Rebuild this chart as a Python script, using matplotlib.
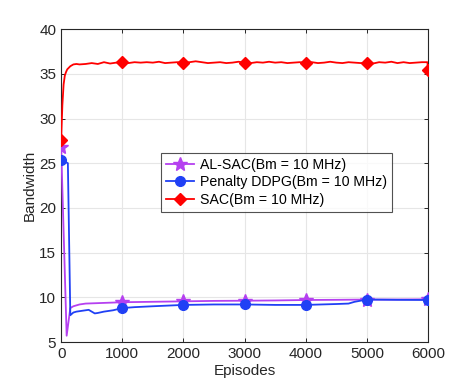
import matplotlib
matplotlib.use("Agg")
import matplotlib.pyplot as plt

plt.rcParams['font.family'] = ['Liberation Sans', 'DejaVu Sans']

# SAC
sac_x = [0, 20, 40, 60, 80, 100, 150, 200, 250, 300, 400, 500, 600, 700, 800, 900, 1000,
         1100, 1200, 1300, 1400, 1500, 1600, 1700, 1800, 1900, 2000, 2100, 2200, 2300, 2400,
         2500, 2600, 2700, 2800, 2900, 3000, 3100, 3200, 3300, 3400, 3500, 3600, 3700, 3800,
         3900, 4000, 4100, 4200, 4300, 4400, 4500, 4600, 4700, 4800, 4900, 5000, 5100, 5200,
         5300, 5400, 5500, 5600, 5700, 5800, 5900, 5990, 6000]
sac_y = [27.6, 31.5, 33.8, 34.8, 35.2, 35.5, 35.85, 36.05, 36.1, 36.05, 36.1, 36.2, 36.1, 36.3,
         36.15, 36.25, 36.3, 36.2, 36.3, 36.25, 36.3, 36.25, 36.35, 36.2, 36.25, 36.3, 36.25,
         36.3, 36.4, 36.3, 36.2, 36.25, 36.3, 36.2, 36.25, 36.35, 36.25, 36.2, 36.3, 36.25, 36.35,
         36.25, 36.3, 36.2, 36.25, 36.3, 36.25, 36.3, 36.2, 36.25, 36.35, 36.25, 36.2, 36.3, 36.25,
         36.2, 36.25, 36.15, 36.3, 36.25, 36.35, 36.2, 36.3, 36.2, 36.25, 36.3, 36.3, 35.4]

# AL-SAC
alsac_x = [0, 90, 150, 200, 300, 400, 600, 800, 1000, 1500, 2000, 2500, 3000, 3500, 4000,
           4500, 5000, 5500, 6000]
alsac_y = [26.8, 5.7, 8.8, 9.0, 9.2, 9.3, 9.35, 9.4, 9.45, 9.5, 9.55, 9.6, 9.62, 9.65, 9.7,
           9.72, 9.75, 9.75, 9.78]

# Penalty DDPG
ddpg_x = [0, 110, 150, 200, 250, 300, 450, 500, 550, 600, 700, 850, 1000, 1200, 1500, 2000,
          2500, 3000, 3500, 4000, 4500, 4700, 4800, 5000, 5500, 6000]
ddpg_y = [25.4, 25.0, 8.0, 8.3, 8.4, 8.45, 8.6, 8.4, 8.2, 8.25, 8.4, 8.55, 8.8, 8.9, 9.0, 9.15,
          9.2, 9.2, 9.15, 9.15, 9.25, 9.3, 9.5, 9.75, 9.72, 9.7]

marker_x = [0, 1000, 2000, 3000, 4000, 5000, 6000]

labels = ['AL-SAC(Bm = 10 MHz)', 'Penalty DDPG(Bm = 10 MHz)', 'SAC(Bm = 10 MHz)']
colors = ['#B540F0', '#2040F5', '#FF0000']

fig = plt.figure(figsize=(4.74, 3.83), dpi=100)
ax = fig.add_axes([0.129, 0.107, 0.774, 0.817])

def mark_idx(xs):
    return [xs.index(m) for m in marker_x]

ax.plot(alsac_x, alsac_y, color=colors[0], lw=1.3, marker='*', markersize=10,
        markevery=mark_idx(alsac_x), label=labels[0], zorder=3)
ax.plot(ddpg_x, ddpg_y, color=colors[1], lw=1.3, marker='o', markersize=7,
        markevery=mark_idx(ddpg_x), label=labels[1], zorder=4)
ax.plot(sac_x, sac_y, color=colors[2], lw=1.3, marker='D', markersize=6.5,
        markevery=mark_idx(sac_x), label=labels[2], zorder=5)

ax.set_xlim(0, 6000)
ax.set_ylim(5, 40)
ax.set_xticks(range(0, 6001, 1000))
ax.set_yticks(range(5, 41, 5))
ax.grid(True, color='#e6e6e6', lw=0.8)
ax.set_axisbelow(True)
ax.tick_params(direction='in', top=True, right=True, labelsize=11, colors='#262626',
               length=3, width=0.7)
for s in ax.spines.values():
    s.set_color('#262626')
    s.set_linewidth(0.8)
ax.set_xlabel('Episodes', fontsize=11, color='#262626', labelpad=2)
ax.set_ylabel('Bandwidth', fontsize=11, color='#262626', labelpad=2)

leg = ax.legend(loc='upper left', bbox_to_anchor=(0.272, 0.605), fontsize=10.2,
                frameon=True, fancybox=False, edgecolor='#262626', handlelength=2.0,
                handletextpad=0.4, borderpad=0.35, labelspacing=0.25, borderaxespad=0)
leg.get_frame().set_linewidth(0.8)

fig.savefig('out.png', dpi=100)
